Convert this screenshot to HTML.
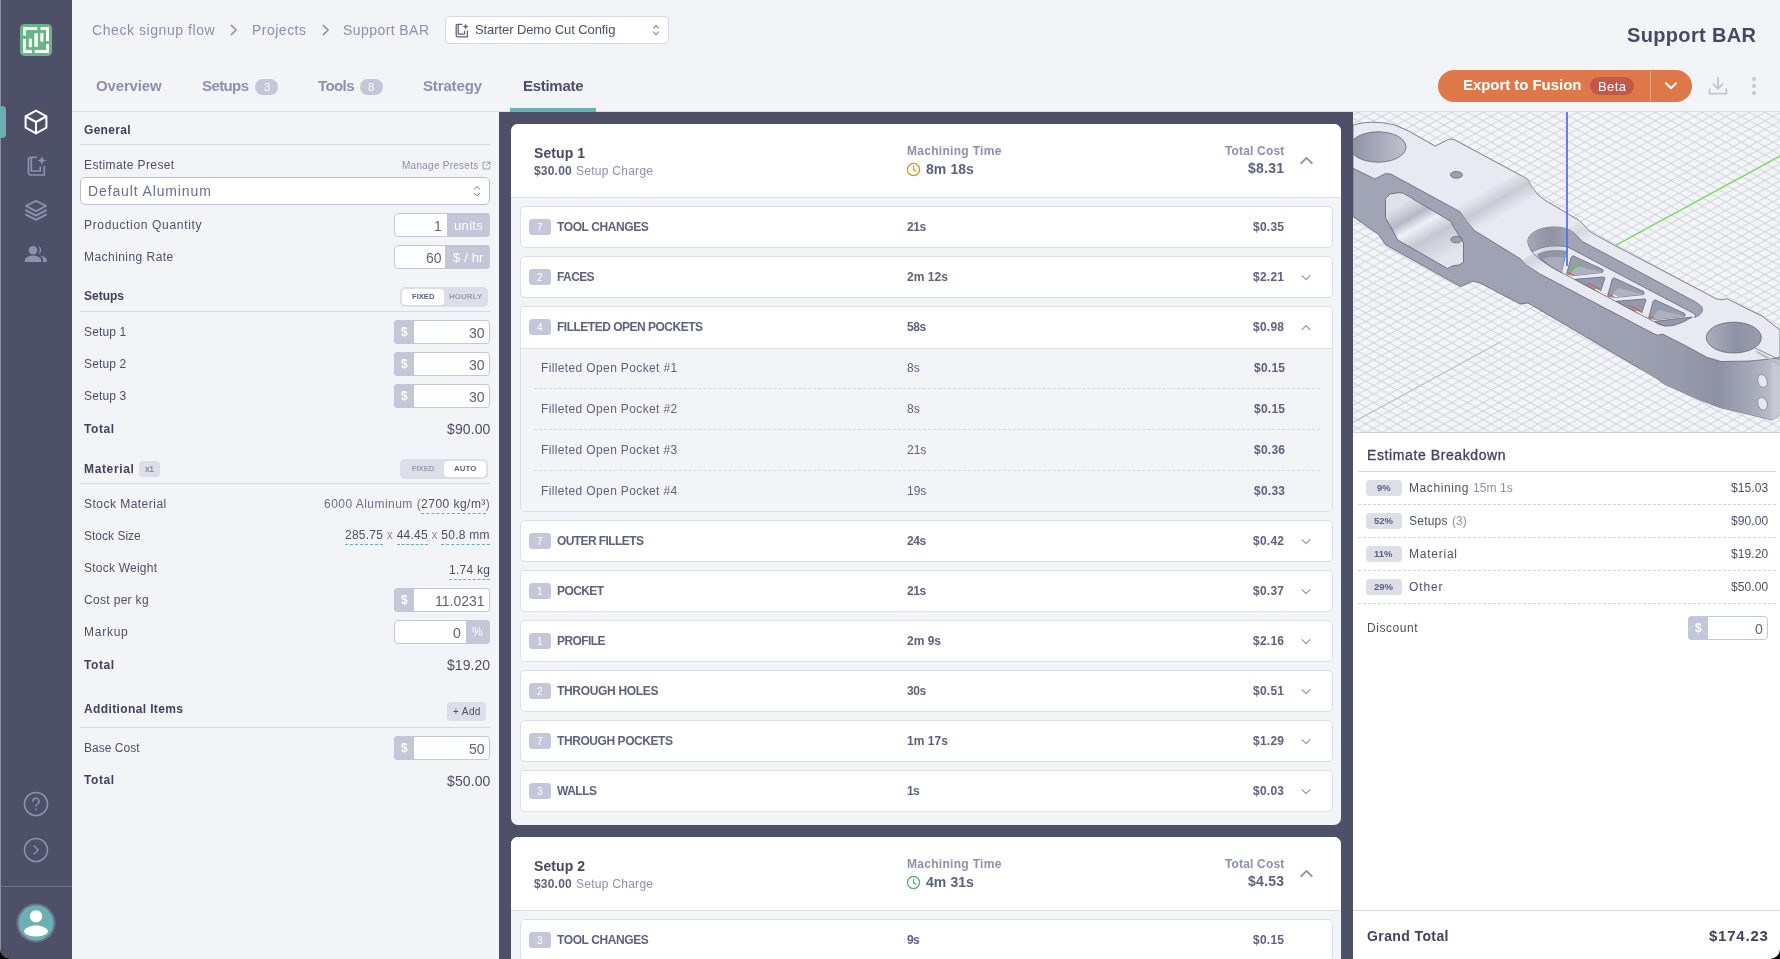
<!DOCTYPE html>
<html lang="en"><head><meta charset="utf-8"><title>Support BAR - Estimate</title>
<style>
html,body{margin:0;padding:0;}
body{width:1780px;height:959px;overflow:hidden;position:relative;background:#f3f4f8;font-family:"Liberation Sans",sans-serif;}
.t{position:absolute;white-space:nowrap;margin:0;padding:0;will-change:transform;}
.b{position:absolute;box-sizing:border-box;display:block;}
</style></head><body>
<div class="b" style="left:0px;top:0px;width:72px;height:959px;background:#4e5068;"></div>
<div class="b" style="left:0px;top:0px;width:1px;height:959px;background:#8b8d9e;"></div>
<div class="b" style="left:0px;top:106px;width:5.6px;height:32px;background:#6ab0b3;border-radius:0 4px 4px 0;"></div>
<svg class="b" style="left:20px;top:24px;" width="32" height="32" viewBox="0 0 32 32">
<rect x="0" y="0" width="32" height="32" rx="4.5" fill="#67b685"/>
<g fill="#fff">
<path d="M3 3 H17.2 V6 H6 V11.6 H3 Z"/>
<path d="M20.5 3 H29 V17.1 H26 V6 H20.5 Z"/>
<path d="M3 14.9 H6 V26 H11.8 V29 H3 Z"/>
<path d="M14.8 26 H26 V20.1 H29 V29 H14.8 Z"/>
<rect x="8.8" y="14.4" width="3.2" height="9" rx="1.4"/>
<rect x="14.4" y="9.1" width="3.5" height="14" rx="1.4"/>
<rect x="20.3" y="8.9" width="3.2" height="9" rx="1.4"/>
</g>
</svg>
<svg class="b" style="left:22px;top:108px;" width="28" height="28" viewBox="0 0 28 28">
<g fill="none" stroke="#fff" stroke-width="2" stroke-linejoin="round" stroke-linecap="round">
<path d="M14 2.6 L24.4 8.3 V19.7 L14 25.4 L3.6 19.7 V8.3 Z"/>
<path d="M3.9 8.5 L14 14 L24.1 8.5"/><path d="M14 14 V25.2"/>
</g></svg>
<svg class="b" style="left:24px;top:154px;" width="24" height="24" viewBox="0 0 24 24">
<g fill="none" stroke="#8d91ab" stroke-width="1.7" stroke-linejoin="round" stroke-linecap="butt">
<path d="M13 3.3 H6.4 a1.9 1.9 0 0 0 -1.9 1.9 V18.8 a2.2 2.2 0 0 0 2.2 2.2 H20.3 V11.8"/>
<path d="M7.3 3.3 V17 H16.3 V12.4"/>
</g>
<path d="M17.8 2 l1.2 3.3 l3.3 1.2 l-3.3 1.2 l-1.2 3.3 l-1.2 -3.3 l-3.3 -1.2 l3.3 -1.2 z" fill="#8d91ab"/>
</svg>
<svg class="b" style="left:24px;top:198px;" width="24" height="24" viewBox="0 0 24 24">
<g fill="none" stroke="#8d91ab" stroke-width="1.9" stroke-linejoin="round" stroke-linecap="round">
<path d="M12 2.8 L22 8 L12 13.2 L2 8 Z"/>
<path d="M2 12.4 L12 17.6 L22 12.4"/>
<path d="M2 16.6 L12 21.8 L22 16.6"/>
</g></svg>
<svg class="b" style="left:24px;top:243px;" width="24" height="22" viewBox="0 0 24 22">
<g fill="#8d91ab">
<circle cx="9" cy="7.2" r="4.3"/>
<path d="M0.8 19 v-1.6 c0 -3.2 5.2 -4.9 8.2 -4.9 s8.2 1.7 8.2 4.9 V19 Z"/>
<path d="M14.2 3.1 a4.3 4.3 0 0 1 0 8.2 a6 6 0 0 0 0 -8.2 Z"/>
<path d="M16.6 12.7 c2.8 0.5 6.2 1.9 6.2 4.7 V19 h-3.6 v-1.6 c0 -2 -1.1 -3.5 -2.6 -4.7 Z"/>
</g></svg>
<svg class="b" style="left:23px;top:791px;" width="26" height="26" viewBox="0 0 26 26">
<circle cx="13" cy="13" r="11.5" fill="none" stroke="#8d91ab" stroke-width="1.6"/>
<path d="M9.9 10.3 a3.1 3.1 0 1 1 4.6 2.7 c-1 .6 -1.5 1.1 -1.5 2.3" fill="none" stroke="#8d91ab" stroke-width="1.4" stroke-linecap="round"/>
<circle cx="13" cy="18.3" r="0.95" fill="#8d91ab"/></svg>
<svg class="b" style="left:23px;top:837px;" width="26" height="26" viewBox="0 0 26 26">
<circle cx="13" cy="13" r="11.5" fill="none" stroke="#8d91ab" stroke-width="1.6"/>
<path d="M11 8.8 L15.2 13 L11 17.2" fill="none" stroke="#8d91ab" stroke-width="1.4" stroke-linecap="round" stroke-linejoin="round"/></svg>
<div class="b" style="left:1px;top:886px;width:71px;height:1px;background:#6d708b;"></div>
<svg class="b" style="left:16px;top:903px;" width="40" height="40" viewBox="0 0 40 40">
<circle cx="20" cy="20" r="19.6" fill="#6d708b"/>
<circle cx="20" cy="20" r="17.5" fill="#6ab0b3"/>
<circle cx="20" cy="13.4" r="6.2" fill="#fff"/>
<path d="M8 29.2 c0 -4.2 6 -6.6 12 -6.6 s12 2.4 12 6.6 c-2.4 2.9 -7 4.4 -12 4.4 s-9.6 -1.5 -12 -4.4 Z" fill="#fff"/></svg>
<div class="t" style="top:21.15px;font-size:14px;line-height:18px;color:#8c90ad;letter-spacing:0.568px;left:92.30px;">Check signup flow</div>
<div class="t" style="top:21.15px;font-size:14px;line-height:18px;color:#8c90ad;letter-spacing:0.490px;left:252.00px;">Projects</div>
<div class="t" style="top:21.15px;font-size:14px;line-height:18px;color:#8c90ad;letter-spacing:0.429px;left:343.00px;">Support BAR</div>
<svg class="b" style="left:230px;top:24px;" width="8" height="12" viewBox="0 0 8 12"><path d="M1.3 1.4 L6.2 6 L1.3 10.6" fill="none" stroke="#8c90ad" stroke-width="1.5" stroke-linecap="round" stroke-linejoin="round"/></svg>
<svg class="b" style="left:321.5px;top:24px;" width="8" height="12" viewBox="0 0 8 12"><path d="M1.3 1.4 L6.2 6 L1.3 10.6" fill="none" stroke="#8c90ad" stroke-width="1.5" stroke-linecap="round" stroke-linejoin="round"/></svg>
<div class="b" style="left:445px;top:16px;width:224px;height:28px;background:#fff;border:1px solid #d3d6e3;border-radius:4px;"></div>
<svg class="b" style="left:452.6px;top:21.6px;" width="17" height="17" viewBox="0 0 24 24">
<g fill="none" stroke="#5d6180" stroke-width="1.75" stroke-linejoin="round">
<path d="M13 3.3 H6.4 a1.9 1.9 0 0 0 -1.9 1.9 V18.8 a2.2 2.2 0 0 0 2.2 2.2 H20.3 V11.8"/>
<path d="M7.3 3.3 V17 H16.3 V12.4"/></g>
<path d="M17.8 2 l1.2 3.3 l3.3 1.2 l-3.3 1.2 l-1.2 3.3 l-1.2 -3.3 l-3.3 -1.2 l3.3 -1.2 z" fill="#5d6180"/></svg>
<div class="t" style="top:21.40px;font-size:13px;line-height:17px;color:#4d4f69;letter-spacing:-0.088px;left:474.60px;">Starter Demo Cut Config</div>
<svg class="b" style="left:652px;top:23px;" width="8" height="14" viewBox="0 0 8 14"><g fill="none" stroke="#8c90ad" stroke-width="1.1" stroke-linecap="round" stroke-linejoin="round"><path d="M1.5 5 L4 2.4 L6.5 5"/><path d="M1.5 9 L4 11.6 L6.5 9"/></g></svg>
<div class="t" style="top:21.57px;font-size:20px;line-height:26px;color:#454866;font-weight:700;letter-spacing:0.346px;right:23.85px;text-align:right;">Support BAR</div>
<div class="t" style="top:75.80px;font-size:15px;line-height:20px;color:#8c90ad;font-weight:700;letter-spacing:-0.158px;left:96.40px;">Overview</div>
<div class="t" style="top:75.80px;font-size:15px;line-height:20px;color:#8c90ad;font-weight:700;letter-spacing:-0.600px;left:202.00px;">Setups</div>
<div class="t" style="top:75.80px;font-size:15px;line-height:20px;color:#8c90ad;font-weight:700;letter-spacing:-0.600px;left:318.00px;">Tools</div>
<div class="t" style="top:75.80px;font-size:15px;line-height:20px;color:#8c90ad;font-weight:700;letter-spacing:-0.146px;left:423.00px;">Strategy</div>
<div class="t" style="top:75.80px;font-size:15px;line-height:20px;color:#4d4f69;font-weight:700;letter-spacing:-0.290px;left:522.50px;">Estimate</div>
<div class="b" style="left:255.4px;top:78.5px;width:23px;height:16.5px;background:#c4c7d9;border-radius:8.5px;"></div>
<div class="t" style="top:79.52px;font-size:11.5px;line-height:15px;color:#fff;left:263.70px;">3</div>
<div class="b" style="left:360px;top:78.5px;width:23px;height:16.5px;background:#c4c7d9;border-radius:8.5px;"></div>
<div class="t" style="top:79.52px;font-size:11.5px;line-height:15px;color:#fff;left:368.30px;">8</div>
<div class="b" style="left:72px;top:111px;width:1708px;height:1px;background:#dcdee8;"></div>
<div class="b" style="left:510px;top:108px;width:86px;height:3.5px;background:#6ab0b3;"></div>
<div class="b" style="left:1438px;top:70px;width:254px;height:32px;background:#de7848;border-radius:16px;"></div>
<div class="b" style="left:1650px;top:71px;width:1px;height:30px;background:#eba27f;"></div>
<div class="t" style="top:75.30px;font-size:15px;line-height:20px;color:#fff;font-weight:700;letter-spacing:-0.050px;left:1463.00px;">Export to Fusion</div>
<div class="b" style="left:1590.3px;top:77px;width:44px;height:18px;background:#c1584a;border-radius:9px;"></div>
<div class="t" style="top:77.50px;font-size:13px;line-height:17px;color:#fff;letter-spacing:0.419px;left:1598.00px;">Beta</div>
<svg class="b" style="left:1664px;top:80px;" width="14" height="12" viewBox="0 0 14 12"><path d="M2 3.2 L7 8.2 L12 3.2" fill="none" stroke="#fff" stroke-width="2" stroke-linecap="round" stroke-linejoin="round"/></svg>
<svg class="b" style="left:1707px;top:76px;" width="22" height="20" viewBox="0 0 22 20"><g fill="none" stroke="#c3c6db" stroke-width="1.9" stroke-linecap="round" stroke-linejoin="round"><path d="M11 2 V12.4"/><path d="M6.4 8.2 L11 12.8 L15.6 8.2"/><path d="M2.6 13.2 V17.6 H19.4 V13.2"/></g></svg>
<svg class="b" style="left:1751px;top:76px;" width="6" height="20" viewBox="0 0 6 20"><g fill="#c3c6db"><circle cx="3" cy="3" r="2"/><circle cx="3" cy="10" r="2"/><circle cx="3" cy="17" r="2"/></g></svg>
<div class="t" style="top:121.84px;font-size:12px;line-height:16px;color:#3f4260;font-weight:700;letter-spacing:0.302px;left:84.30px;">General</div>
<div class="b" style="left:80px;top:144px;width:410px;height:1px;background:#d7d9e5;"></div>
<div class="t" style="top:156.64px;font-size:12px;line-height:16px;color:#4d4f69;letter-spacing:0.393px;left:84.30px;">Estimate Preset</div>
<div class="t" style="top:159.03px;font-size:10px;line-height:13px;color:#8c90ad;letter-spacing:0.261px;left:401.50px;">Manage Presets</div>
<svg class="b" style="left:481.5px;top:160.5px;" width="9" height="9" viewBox="0 0 9 9"><g fill="none" stroke="#8c90ad" stroke-width="0.9" stroke-linecap="round" stroke-linejoin="round"><path d="M3.8 1.2 H1.6 a.6 .6 0 0 0 -.6 .6 V7.4 a.6 .6 0 0 0 .6 .6 H7.2 a.6 .6 0 0 0 .6 -.6 V5.2"/><path d="M5.4 1 H8 V3.6"/><path d="M8 1 L4.2 4.8"/></g></svg>
<div class="b" style="left:80px;top:177px;width:410px;height:28px;background:#fff;border:1px solid #bcc0d4;border-radius:5px;"></div>
<div class="t" style="top:182.15px;font-size:14px;line-height:18px;color:#6b6f8d;letter-spacing:0.872px;left:87.50px;">Default Aluminum</div>
<svg class="b" style="left:473px;top:184px;" width="8" height="14" viewBox="0 0 8 14"><g fill="none" stroke="#7d819e" stroke-width="1" stroke-linecap="round" stroke-linejoin="round"><path d="M1.3 5 L4 2.5 L6.7 5"/><path d="M1.3 9.3 L4 11.8 L6.7 9.3"/></g></svg>
<div class="t" style="top:216.54px;font-size:12px;line-height:16px;color:#4d4f69;letter-spacing:0.673px;left:84.30px;">Production Quantity</div>
<div class="b" style="left:394px;top:213px;width:96px;height:24px;background:#fff;border:1px solid #c4c7d9;border-radius:4px;"></div>
<div class="b" style="left:447px;top:213px;width:43px;height:24px;background:#c4c7d9;border-radius:0 4px 4px 0;"></div>
<div class="t" style="top:216.60px;font-size:13px;line-height:17px;color:#fff;letter-spacing:0.335px;left:454.00px;">units</div>
<div class="t" style="top:216.75px;font-size:14px;line-height:18px;color:#5d6180;right:1338.30px;text-align:right;">1</div>
<div class="t" style="top:248.54px;font-size:12px;line-height:16px;color:#4d4f69;letter-spacing:0.448px;left:84.30px;">Machining Rate</div>
<div class="b" style="left:394px;top:245px;width:96px;height:24px;background:#fff;border:1px solid #c4c7d9;border-radius:4px;"></div>
<div class="b" style="left:445px;top:245px;width:45px;height:24px;background:#c4c7d9;border-radius:0 4px 4px 0;"></div>
<div class="t" style="top:248.60px;font-size:13px;line-height:17px;color:#fff;letter-spacing:0.155px;left:452.60px;">$ / hr</div>
<div class="t" style="top:248.75px;font-size:14px;line-height:18px;color:#5d6180;right:1338.50px;text-align:right;">60</div>
<div class="t" style="top:288.44px;font-size:12px;line-height:16px;color:#3f4260;font-weight:700;left:84.20px;">Setups</div>
<div class="b" style="left:400px;top:287px;width:88px;height:20px;background:#dcdee8;border-radius:5px;"></div>
<div class="b" style="left:402px;top:288.8px;width:42px;height:16.4px;background:#fff;border-radius:4px;"></div>
<div class="t" style="top:292.40px;font-size:7.8px;line-height:10px;color:#5d6180;font-weight:700;letter-spacing:-0.093px;left:411.60px;">FIXED</div>
<div class="t" style="top:292.40px;font-size:7.8px;line-height:10px;color:#9a9eb8;font-weight:700;letter-spacing:0.177px;left:448.60px;">HOURLY</div>
<div class="b" style="left:80px;top:311px;width:410px;height:1px;background:#d7d9e5;"></div>
<div class="t" style="top:323.84px;font-size:12px;line-height:16px;color:#4d4f69;letter-spacing:0.139px;left:84.20px;">Setup 1</div>
<div class="b" style="left:394px;top:320px;width:96px;height:24px;background:#fff;border:1px solid #c4c7d9;border-radius:4px;"></div>
<div class="b" style="left:394px;top:320px;width:20px;height:24px;background:#c4c7d9;border-radius:4px 0 0 4px;"></div>
<div class="t" style="top:324.04px;font-size:12px;line-height:16px;color:#fff;font-weight:700;left:400.60px;">$</div>
<div class="t" style="top:323.75px;font-size:14px;line-height:18px;color:#5d6180;right:1295.20px;text-align:right;">30</div>
<div class="t" style="top:355.84px;font-size:12px;line-height:16px;color:#4d4f69;letter-spacing:0.139px;left:84.20px;">Setup 2</div>
<div class="b" style="left:394px;top:352px;width:96px;height:24px;background:#fff;border:1px solid #c4c7d9;border-radius:4px;"></div>
<div class="b" style="left:394px;top:352px;width:20px;height:24px;background:#c4c7d9;border-radius:4px 0 0 4px;"></div>
<div class="t" style="top:356.04px;font-size:12px;line-height:16px;color:#fff;font-weight:700;left:400.60px;">$</div>
<div class="t" style="top:355.75px;font-size:14px;line-height:18px;color:#5d6180;right:1295.20px;text-align:right;">30</div>
<div class="t" style="top:387.84px;font-size:12px;line-height:16px;color:#4d4f69;letter-spacing:0.139px;left:84.20px;">Setup 3</div>
<div class="b" style="left:394px;top:384px;width:96px;height:24px;background:#fff;border:1px solid #c4c7d9;border-radius:4px;"></div>
<div class="b" style="left:394px;top:384px;width:20px;height:24px;background:#c4c7d9;border-radius:4px 0 0 4px;"></div>
<div class="t" style="top:388.04px;font-size:12px;line-height:16px;color:#fff;font-weight:700;left:400.60px;">$</div>
<div class="t" style="top:387.75px;font-size:14px;line-height:18px;color:#5d6180;right:1295.20px;text-align:right;">30</div>
<div class="t" style="top:420.84px;font-size:12px;line-height:16px;color:#3f4260;font-weight:700;letter-spacing:0.557px;left:84.20px;">Total</div>
<div class="t" style="top:420.15px;font-size:14px;line-height:18px;color:#4d4f69;letter-spacing:0.096px;right:1289.90px;text-align:right;">$90.00</div>
<div class="t" style="top:460.84px;font-size:12px;line-height:16px;color:#3f4260;font-weight:700;letter-spacing:0.650px;left:84.25px;">Material</div>
<div class="b" style="left:139px;top:461px;width:21px;height:16px;background:#dcdee8;border-radius:4px;"></div>
<div class="t" style="top:463.95px;font-size:8.5px;line-height:11px;color:#8c90ad;font-weight:700;letter-spacing:-0.453px;left:144.80px;">x1</div>
<div class="b" style="left:400px;top:459px;width:88px;height:20px;background:#dcdee8;border-radius:5px;"></div>
<div class="b" style="left:444px;top:460.8px;width:42px;height:16.4px;background:#fff;border-radius:4px;"></div>
<div class="t" style="top:464.40px;font-size:7.8px;line-height:10px;color:#9a9eb8;font-weight:700;letter-spacing:-0.168px;left:411.70px;">FIXED</div>
<div class="t" style="top:464.40px;font-size:7.8px;line-height:10px;color:#5d6180;font-weight:700;letter-spacing:0.115px;left:453.80px;">AUTO</div>
<div class="b" style="left:80px;top:483px;width:410px;height:1px;background:#d7d9e5;"></div>
<div class="t" style="top:495.84px;font-size:12px;line-height:16px;color:#4d4f69;letter-spacing:0.475px;left:84.25px;">Stock Material</div>
<div class="t" style="top:495.54px;font-size:12px;line-height:16px;color:#4d4f69;right:1290.00px;text-align:right;letter-spacing:0.47px;"><span style="color:#6b6f8d">6000 Aluminum (</span><span style="border-bottom:1px dashed #6ab0b3;padding-bottom:1.5px;">2700 kg/m&#179;</span><span style="color:#6b6f8d">)</span></div>
<div class="t" style="top:527.59px;font-size:12px;line-height:16px;color:#4d4f69;letter-spacing:0.012px;left:84.25px;">Stock Size</div>
<div class="t" style="top:527.14px;font-size:12px;line-height:16px;color:#4d4f69;right:1290.00px;text-align:right;letter-spacing:0.25px;"><span style="border-bottom:1px dashed #6ab0b3;padding-bottom:1.5px;">285.75</span><span style="color:#8c90ad"> x </span><span style="border-bottom:1px dashed #6ab0b3;padding-bottom:1.5px;">44.45</span><span style="color:#8c90ad"> x </span><span style="border-bottom:1px dashed #6ab0b3;padding-bottom:1.5px;">50.8 mm</span></div>
<div class="t" style="top:559.59px;font-size:12px;line-height:16px;color:#4d4f69;letter-spacing:0.229px;left:84.25px;">Stock Weight</div>
<div class="t" style="top:561.64px;font-size:12px;line-height:16px;color:#4d4f69;right:1290.00px;text-align:right;letter-spacing:0.25px;"><span style="border-bottom:1px dashed #6ab0b3;padding-bottom:1.5px;">1.74 kg</span></div>
<div class="t" style="top:591.84px;font-size:12px;line-height:16px;color:#4d4f69;letter-spacing:0.324px;left:84.25px;">Cost per kg</div>
<div class="b" style="left:394px;top:588px;width:96px;height:24px;background:#fff;border:1px solid #c4c7d9;border-radius:4px;"></div>
<div class="b" style="left:394px;top:588px;width:20px;height:24px;background:#c4c7d9;border-radius:4px 0 0 4px;"></div>
<div class="t" style="top:592.04px;font-size:12px;line-height:16px;color:#fff;font-weight:700;left:400.60px;">$</div>
<div class="t" style="top:591.75px;font-size:14px;line-height:18px;color:#5d6180;right:1295.70px;text-align:right;">11.0231</div>
<div class="t" style="top:624.04px;font-size:12px;line-height:16px;color:#4d4f69;letter-spacing:0.757px;left:84.25px;">Markup</div>
<div class="b" style="left:394px;top:620px;width:96px;height:24px;background:#fff;border:1px solid #c4c7d9;border-radius:4px;"></div>
<div class="b" style="left:466px;top:620px;width:24px;height:24px;background:#c4c7d9;border-radius:0 4px 4px 0;"></div>
<div class="t" style="top:624.44px;font-size:12px;line-height:16px;color:#fff;left:472.30px;">%</div>
<div class="t" style="top:623.75px;font-size:14px;line-height:18px;color:#5d6180;right:1319.00px;text-align:right;">0</div>
<div class="t" style="top:656.84px;font-size:12px;line-height:16px;color:#3f4260;font-weight:700;letter-spacing:0.557px;left:84.25px;">Total</div>
<div class="t" style="top:656.15px;font-size:14px;line-height:18px;color:#4d4f69;letter-spacing:0.036px;right:1289.96px;text-align:right;">$19.20</div>
<div class="t" style="top:700.84px;font-size:12px;line-height:16px;color:#3f4260;font-weight:700;letter-spacing:0.377px;left:84.25px;">Additional Items</div>
<div class="b" style="left:447px;top:702px;width:39px;height:19px;background:#dcdee8;border-radius:3.5px;"></div>
<div class="t" style="top:704.93px;font-size:10px;line-height:13px;color:#4d4f69;letter-spacing:0.385px;left:452.80px;">+ Add</div>
<div class="b" style="left:80px;top:727px;width:410px;height:1px;background:#d7d9e5;"></div>
<div class="t" style="top:739.84px;font-size:12px;line-height:16px;color:#4d4f69;letter-spacing:0.030px;left:84.25px;">Base Cost</div>
<div class="b" style="left:394px;top:736px;width:96px;height:24px;background:#fff;border:1px solid #c4c7d9;border-radius:4px;"></div>
<div class="b" style="left:394px;top:736px;width:20px;height:24px;background:#c4c7d9;border-radius:4px 0 0 4px;"></div>
<div class="t" style="top:740.04px;font-size:12px;line-height:16px;color:#fff;font-weight:700;left:400.60px;">$</div>
<div class="t" style="top:739.75px;font-size:14px;line-height:18px;color:#5d6180;right:1295.50px;text-align:right;">50</div>
<div class="t" style="top:772.44px;font-size:12px;line-height:16px;color:#3f4260;font-weight:700;letter-spacing:0.557px;left:84.25px;">Total</div>
<div class="t" style="top:771.85px;font-size:14px;line-height:18px;color:#4d4f69;letter-spacing:0.096px;right:1289.90px;text-align:right;">$50.00</div>
<div class="b" style="left:499px;top:112px;width:854px;height:847px;background:#4e5068;"></div>
<div class="b" style="left:511px;top:124px;width:830px;height:701px;background:#f3f4f8;border-radius:7px;overflow:hidden;"><div style="position:absolute;left:0;top:0;width:830px;height:73px;background:#fff;border-bottom:1px solid #dcdee8;box-sizing:content-box;"></div></div>
<div class="t" style="top:143.85px;font-size:14px;line-height:18px;color:#454866;font-weight:700;letter-spacing:0.089px;left:534.10px;">Setup 1</div>
<div class="t" style="top:162.94px;font-size:12px;line-height:16px;color:#5d6180;font-weight:700;letter-spacing:0.200px;left:534.00px;">$30.00</div>
<div class="t" style="top:162.94px;font-size:12px;line-height:16px;color:#8c90ad;letter-spacing:0.268px;left:575.90px;">Setup Charge</div>
<div class="t" style="top:142.74px;font-size:12px;line-height:16px;color:#8c90ad;font-weight:700;letter-spacing:0.296px;left:906.50px;">Machining Time</div>
<svg class="b" style="left:906.2px;top:161.6px;" width="15" height="15" viewBox="0 0 15 15"><circle cx="7.5" cy="7.5" r="6.1" fill="none" stroke="#d9951c" stroke-width="1.3"/><path d="M7.5 4 V7.7 L9.8 9.2" fill="none" stroke="#d9951c" stroke-width="1.2" stroke-linecap="round" stroke-linejoin="round"/></svg>
<div class="t" style="top:159.85px;font-size:14px;line-height:18px;color:#5d6180;font-weight:700;letter-spacing:0.084px;left:926.00px;">8m 18s</div>
<div class="t" style="top:143.34px;font-size:12px;line-height:16px;color:#8c90ad;font-weight:700;letter-spacing:0.159px;right:495.94px;text-align:right;">Total Cost</div>
<div class="t" style="top:159.35px;font-size:14px;line-height:18px;color:#5d6180;font-weight:700;letter-spacing:0.242px;right:495.76px;text-align:right;">$8.31</div>
<svg class="b" style="left:1299.8px;top:156.3px;" width="13" height="9" viewBox="0 0 13 9"><path d="M1.2 7.2 L6.5 1.9 L11.8 7.2" fill="none" stroke="#8c90ad" stroke-width="1.9" stroke-linecap="round" stroke-linejoin="round"/></svg>
<div class="b" style="left:520px;top:206px;width:813px;height:42px;background:#fff;border:1px solid #dcdee8;border-radius:5px;overflow:hidden;"></div>
<div class="b" style="left:529px;top:219px;width:22px;height:16px;background:#c4c7d9;border-radius:3.5px;"></div>
<div class="t" style="top:220.73px;font-size:10px;line-height:13px;color:#fff;left:537.30px;">7</div>
<div class="t" style="top:218.84px;font-size:12px;line-height:16px;color:#5d6180;font-weight:700;letter-spacing:-0.403px;left:557.40px;">TOOL CHANGES</div>
<div class="t" style="top:218.84px;font-size:12px;line-height:16px;color:#5d6180;font-weight:700;letter-spacing:-0.410px;left:906.60px;">21s</div>
<div class="t" style="top:218.84px;font-size:12px;line-height:16px;color:#5d6180;font-weight:700;letter-spacing:0.243px;right:495.76px;text-align:right;">$0.35</div>
<div class="b" style="left:520px;top:256px;width:813px;height:42px;background:#fff;border:1px solid #dcdee8;border-radius:5px;overflow:hidden;"></div>
<div class="b" style="left:529px;top:269px;width:22px;height:16px;background:#c4c7d9;border-radius:3.5px;"></div>
<div class="t" style="top:270.74px;font-size:10px;line-height:13px;color:#fff;left:537.30px;">2</div>
<div class="t" style="top:268.84px;font-size:12px;line-height:16px;color:#5d6180;font-weight:700;letter-spacing:-0.600px;left:557.40px;">FACES</div>
<div class="t" style="top:268.84px;font-size:12px;line-height:16px;color:#5d6180;font-weight:700;letter-spacing:0.060px;left:906.60px;">2m 12s</div>
<div class="t" style="top:268.84px;font-size:12px;line-height:16px;color:#5d6180;font-weight:700;letter-spacing:0.243px;right:495.76px;text-align:right;">$2.21</div>
<svg class="b" style="left:1301.3px;top:273.5px;" width="10" height="7" viewBox="0 0 10 7"><path d="M1 1.6 L5 5.6 L9 1.6" fill="none" stroke="#8c90ad" stroke-width="1.1" stroke-linecap="round" stroke-linejoin="round"/></svg>
<div class="b" style="left:520px;top:306px;width:813px;height:206px;background:#fff;border:1px solid #dcdee8;border-radius:5px;overflow:hidden;"><div style="position:absolute;left:0;top:41px;width:811px;height:163px;background:#f3f4f8;border-top:1px solid #dcdee8;"></div></div>
<div class="b" style="left:529px;top:319px;width:22px;height:16px;background:#c4c7d9;border-radius:3.5px;"></div>
<div class="t" style="top:320.74px;font-size:10px;line-height:13px;color:#fff;left:537.30px;">4</div>
<div class="t" style="top:318.84px;font-size:12px;line-height:16px;color:#5d6180;font-weight:700;letter-spacing:-0.501px;left:557.40px;">FILLETED OPEN POCKETS</div>
<div class="t" style="top:318.84px;font-size:12px;line-height:16px;color:#5d6180;font-weight:700;letter-spacing:-0.410px;left:906.60px;">58s</div>
<div class="t" style="top:318.84px;font-size:12px;line-height:16px;color:#5d6180;font-weight:700;letter-spacing:0.243px;right:495.76px;text-align:right;">$0.98</div>
<svg class="b" style="left:1301.3px;top:323.5px;" width="10" height="7" viewBox="0 0 10 7"><path d="M1 5.6 L5 1.6 L9 5.6" fill="none" stroke="#8c90ad" stroke-width="1.1" stroke-linecap="round" stroke-linejoin="round"/></svg>
<div class="t" style="top:359.74px;font-size:12px;line-height:16px;color:#5d6180;letter-spacing:0.369px;left:541.00px;">Filleted Open Pocket #1</div>
<div class="t" style="top:359.74px;font-size:12px;line-height:16px;color:#5d6180;left:907.30px;">8s</div>
<div class="t" style="top:359.74px;font-size:12px;line-height:16px;color:#5d6180;font-weight:700;letter-spacing:0.243px;right:494.76px;text-align:right;">$0.15</div>
<div class="b" style="left:534px;top:388px;width:786px;height:1px;border-top:1px dashed #d6d8e4;"></div>
<div class="t" style="top:400.74px;font-size:12px;line-height:16px;color:#5d6180;letter-spacing:0.369px;left:541.00px;">Filleted Open Pocket #2</div>
<div class="t" style="top:400.74px;font-size:12px;line-height:16px;color:#5d6180;left:907.30px;">8s</div>
<div class="t" style="top:400.74px;font-size:12px;line-height:16px;color:#5d6180;font-weight:700;letter-spacing:0.243px;right:494.76px;text-align:right;">$0.15</div>
<div class="b" style="left:534px;top:429px;width:786px;height:1px;border-top:1px dashed #d6d8e4;"></div>
<div class="t" style="top:441.74px;font-size:12px;line-height:16px;color:#5d6180;letter-spacing:0.369px;left:541.00px;">Filleted Open Pocket #3</div>
<div class="t" style="top:441.74px;font-size:12px;line-height:16px;color:#5d6180;left:907.30px;">21s</div>
<div class="t" style="top:441.74px;font-size:12px;line-height:16px;color:#5d6180;font-weight:700;letter-spacing:0.243px;right:494.76px;text-align:right;">$0.36</div>
<div class="b" style="left:534px;top:470px;width:786px;height:1px;border-top:1px dashed #d6d8e4;"></div>
<div class="t" style="top:482.74px;font-size:12px;line-height:16px;color:#5d6180;letter-spacing:0.369px;left:541.00px;">Filleted Open Pocket #4</div>
<div class="t" style="top:482.74px;font-size:12px;line-height:16px;color:#5d6180;left:907.30px;">19s</div>
<div class="t" style="top:482.74px;font-size:12px;line-height:16px;color:#5d6180;font-weight:700;letter-spacing:0.243px;right:494.76px;text-align:right;">$0.33</div>
<div class="b" style="left:520px;top:520px;width:813px;height:42px;background:#fff;border:1px solid #dcdee8;border-radius:5px;overflow:hidden;"></div>
<div class="b" style="left:529px;top:533px;width:22px;height:16px;background:#c4c7d9;border-radius:3.5px;"></div>
<div class="t" style="top:534.74px;font-size:10px;line-height:13px;color:#fff;left:537.30px;">7</div>
<div class="t" style="top:532.84px;font-size:12px;line-height:16px;color:#5d6180;font-weight:700;letter-spacing:-0.583px;left:557.40px;">OUTER FILLETS</div>
<div class="t" style="top:532.84px;font-size:12px;line-height:16px;color:#5d6180;font-weight:700;letter-spacing:-0.410px;left:906.60px;">24s</div>
<div class="t" style="top:532.84px;font-size:12px;line-height:16px;color:#5d6180;font-weight:700;letter-spacing:0.243px;right:495.76px;text-align:right;">$0.42</div>
<svg class="b" style="left:1301.3px;top:537.5px;" width="10" height="7" viewBox="0 0 10 7"><path d="M1 1.6 L5 5.6 L9 1.6" fill="none" stroke="#8c90ad" stroke-width="1.1" stroke-linecap="round" stroke-linejoin="round"/></svg>
<div class="b" style="left:520px;top:570px;width:813px;height:42px;background:#fff;border:1px solid #dcdee8;border-radius:5px;overflow:hidden;"></div>
<div class="b" style="left:529px;top:583px;width:22px;height:16px;background:#c4c7d9;border-radius:3.5px;"></div>
<div class="t" style="top:584.74px;font-size:10px;line-height:13px;color:#fff;left:537.30px;">1</div>
<div class="t" style="top:582.84px;font-size:12px;line-height:16px;color:#5d6180;font-weight:700;letter-spacing:-0.600px;left:557.40px;">POCKET</div>
<div class="t" style="top:582.84px;font-size:12px;line-height:16px;color:#5d6180;font-weight:700;letter-spacing:-0.410px;left:906.60px;">21s</div>
<div class="t" style="top:582.84px;font-size:12px;line-height:16px;color:#5d6180;font-weight:700;letter-spacing:0.243px;right:495.76px;text-align:right;">$0.37</div>
<svg class="b" style="left:1301.3px;top:587.5px;" width="10" height="7" viewBox="0 0 10 7"><path d="M1 1.6 L5 5.6 L9 1.6" fill="none" stroke="#8c90ad" stroke-width="1.1" stroke-linecap="round" stroke-linejoin="round"/></svg>
<div class="b" style="left:520px;top:620px;width:813px;height:42px;background:#fff;border:1px solid #dcdee8;border-radius:5px;overflow:hidden;"></div>
<div class="b" style="left:529px;top:633px;width:22px;height:16px;background:#c4c7d9;border-radius:3.5px;"></div>
<div class="t" style="top:634.74px;font-size:10px;line-height:13px;color:#fff;left:537.30px;">1</div>
<div class="t" style="top:632.84px;font-size:12px;line-height:16px;color:#5d6180;font-weight:700;letter-spacing:-0.600px;left:557.40px;">PROFILE</div>
<div class="t" style="top:632.84px;font-size:12px;line-height:16px;color:#5d6180;font-weight:700;letter-spacing:-0.006px;left:906.60px;">2m 9s</div>
<div class="t" style="top:632.84px;font-size:12px;line-height:16px;color:#5d6180;font-weight:700;letter-spacing:0.243px;right:495.76px;text-align:right;">$2.16</div>
<svg class="b" style="left:1301.3px;top:637.5px;" width="10" height="7" viewBox="0 0 10 7"><path d="M1 1.6 L5 5.6 L9 1.6" fill="none" stroke="#8c90ad" stroke-width="1.1" stroke-linecap="round" stroke-linejoin="round"/></svg>
<div class="b" style="left:520px;top:670px;width:813px;height:42px;background:#fff;border:1px solid #dcdee8;border-radius:5px;overflow:hidden;"></div>
<div class="b" style="left:529px;top:683px;width:22px;height:16px;background:#c4c7d9;border-radius:3.5px;"></div>
<div class="t" style="top:684.74px;font-size:10px;line-height:13px;color:#fff;left:537.30px;">2</div>
<div class="t" style="top:682.84px;font-size:12px;line-height:16px;color:#5d6180;font-weight:700;letter-spacing:-0.320px;left:557.40px;">THROUGH HOLES</div>
<div class="t" style="top:682.84px;font-size:12px;line-height:16px;color:#5d6180;font-weight:700;letter-spacing:-0.410px;left:906.60px;">30s</div>
<div class="t" style="top:682.84px;font-size:12px;line-height:16px;color:#5d6180;font-weight:700;letter-spacing:0.243px;right:495.76px;text-align:right;">$0.51</div>
<svg class="b" style="left:1301.3px;top:687.5px;" width="10" height="7" viewBox="0 0 10 7"><path d="M1 1.6 L5 5.6 L9 1.6" fill="none" stroke="#8c90ad" stroke-width="1.1" stroke-linecap="round" stroke-linejoin="round"/></svg>
<div class="b" style="left:520px;top:720px;width:813px;height:42px;background:#fff;border:1px solid #dcdee8;border-radius:5px;overflow:hidden;"></div>
<div class="b" style="left:529px;top:733px;width:22px;height:16px;background:#c4c7d9;border-radius:3.5px;"></div>
<div class="t" style="top:734.74px;font-size:10px;line-height:13px;color:#fff;left:537.30px;">7</div>
<div class="t" style="top:732.84px;font-size:12px;line-height:16px;color:#5d6180;font-weight:700;letter-spacing:-0.429px;left:557.40px;">THROUGH POCKETS</div>
<div class="t" style="top:732.84px;font-size:12px;line-height:16px;color:#5d6180;font-weight:700;letter-spacing:0.060px;left:906.60px;">1m 17s</div>
<div class="t" style="top:732.84px;font-size:12px;line-height:16px;color:#5d6180;font-weight:700;letter-spacing:0.243px;right:495.76px;text-align:right;">$1.29</div>
<svg class="b" style="left:1301.3px;top:737.5px;" width="10" height="7" viewBox="0 0 10 7"><path d="M1 1.6 L5 5.6 L9 1.6" fill="none" stroke="#8c90ad" stroke-width="1.1" stroke-linecap="round" stroke-linejoin="round"/></svg>
<div class="b" style="left:520px;top:770px;width:813px;height:42px;background:#fff;border:1px solid #dcdee8;border-radius:5px;overflow:hidden;"></div>
<div class="b" style="left:529px;top:783px;width:22px;height:16px;background:#c4c7d9;border-radius:3.5px;"></div>
<div class="t" style="top:784.74px;font-size:10px;line-height:13px;color:#fff;left:537.30px;">3</div>
<div class="t" style="top:782.84px;font-size:12px;line-height:16px;color:#5d6180;font-weight:700;letter-spacing:-0.498px;left:557.40px;">WALLS</div>
<div class="t" style="top:782.84px;font-size:12px;line-height:16px;color:#5d6180;font-weight:700;letter-spacing:-0.600px;left:906.60px;">1s</div>
<div class="t" style="top:782.84px;font-size:12px;line-height:16px;color:#5d6180;font-weight:700;letter-spacing:0.243px;right:495.76px;text-align:right;">$0.03</div>
<svg class="b" style="left:1301.3px;top:787.5px;" width="10" height="7" viewBox="0 0 10 7"><path d="M1 1.6 L5 5.6 L9 1.6" fill="none" stroke="#8c90ad" stroke-width="1.1" stroke-linecap="round" stroke-linejoin="round"/></svg>
<div class="b" style="left:511px;top:837px;width:830px;height:140px;background:#f3f4f8;border-radius:7px;overflow:hidden;"><div style="position:absolute;left:0;top:0;width:830px;height:73px;background:#fff;border-bottom:1px solid #dcdee8;box-sizing:content-box;"></div></div>
<div class="t" style="top:856.85px;font-size:14px;line-height:18px;color:#454866;font-weight:700;letter-spacing:0.089px;left:534.10px;">Setup 2</div>
<div class="t" style="top:875.94px;font-size:12px;line-height:16px;color:#5d6180;font-weight:700;letter-spacing:0.200px;left:534.00px;">$30.00</div>
<div class="t" style="top:875.94px;font-size:12px;line-height:16px;color:#8c90ad;letter-spacing:0.268px;left:575.90px;">Setup Charge</div>
<div class="t" style="top:855.74px;font-size:12px;line-height:16px;color:#8c90ad;font-weight:700;letter-spacing:0.296px;left:906.50px;">Machining Time</div>
<svg class="b" style="left:906.2px;top:874.6px;" width="15" height="15" viewBox="0 0 15 15"><circle cx="7.5" cy="7.5" r="6.1" fill="none" stroke="#4fb36b" stroke-width="1.3"/><path d="M7.5 4 V7.7 L9.8 9.2" fill="none" stroke="#4fb36b" stroke-width="1.2" stroke-linecap="round" stroke-linejoin="round"/></svg>
<div class="t" style="top:872.85px;font-size:14px;line-height:18px;color:#5d6180;font-weight:700;letter-spacing:0.084px;left:926.00px;">4m 31s</div>
<div class="t" style="top:856.34px;font-size:12px;line-height:16px;color:#8c90ad;font-weight:700;letter-spacing:0.159px;right:495.94px;text-align:right;">Total Cost</div>
<div class="t" style="top:872.35px;font-size:14px;line-height:18px;color:#5d6180;font-weight:700;letter-spacing:0.242px;right:495.76px;text-align:right;">$4.53</div>
<svg class="b" style="left:1299.8px;top:869.3px;" width="13" height="9" viewBox="0 0 13 9"><path d="M1.2 7.2 L6.5 1.9 L11.8 7.2" fill="none" stroke="#8c90ad" stroke-width="1.9" stroke-linecap="round" stroke-linejoin="round"/></svg>
<div class="b" style="left:520px;top:919px;width:813px;height:42px;background:#fff;border:1px solid #dcdee8;border-radius:5px;overflow:hidden;"></div>
<div class="b" style="left:529px;top:932px;width:22px;height:16px;background:#c4c7d9;border-radius:3.5px;"></div>
<div class="t" style="top:933.74px;font-size:10px;line-height:13px;color:#fff;left:537.30px;">3</div>
<div class="t" style="top:931.84px;font-size:12px;line-height:16px;color:#5d6180;font-weight:700;letter-spacing:-0.403px;left:557.40px;">TOOL CHANGES</div>
<div class="t" style="top:931.84px;font-size:12px;line-height:16px;color:#5d6180;font-weight:700;letter-spacing:-0.600px;left:906.60px;">9s</div>
<div class="t" style="top:931.84px;font-size:12px;line-height:16px;color:#5d6180;font-weight:700;letter-spacing:0.243px;right:495.76px;text-align:right;">$0.15</div>
<div class="b" style="left:1353px;top:112px;width:427px;height:847px;background:#fff;"></div>
<svg class="b" style="left:1353px;top:112px;" width="427" height="320" viewBox="1353 112 427 320">
<defs>
<pattern id="gA" x="1365.8" y="381.25" width="15.65" height="8.54" patternUnits="userSpaceOnUse">
<path d="M-1.565 9.394 L17.215 -0.854 M-1.565 -0.854 L17.215 9.394" stroke="#b9bbc4" stroke-width="0.65" fill="none"/>
</pattern>
<linearGradient id="hole" x1="0" y1="0" x2="1" y2="0"><stop offset="0" stop-color="#8e91a3"/><stop offset="1" stop-color="#bfc1ce"/></linearGradient>
<linearGradient id="hole3" x1="0" y1="0" x2="1" y2="0"><stop offset="0" stop-color="#abaebc"/><stop offset=".55" stop-color="#8f92a4"/><stop offset="1" stop-color="#9a9daf"/></linearGradient>
<linearGradient id="hole2" x1="0" y1="0" x2="1" y2="0"><stop offset="0" stop-color="#a4a7b7"/><stop offset=".5" stop-color="#8f92a4"/><stop offset="1" stop-color="#a4a7b7"/></linearGradient>
<linearGradient id="side" x1="0" y1="0" x2="1" y2="0"><stop offset="0" stop-color="#a1a4b4"/><stop offset="1" stop-color="#9c9fb0"/></linearGradient>
<linearGradient id="cyl" gradientUnits="userSpaceOnUse" x1="1640" y1="0" x2="1780" y2="0"><stop offset="0" stop-color="#9c9fb0"/><stop offset=".25" stop-color="#999cad"/><stop offset=".55" stop-color="#8e91a3"/><stop offset=".8" stop-color="#a6a9b8"/><stop offset=".93" stop-color="#b9bbc8"/><stop offset=".95" stop-color="#c8cad5"/><stop offset="1" stop-color="#c4c6d2"/></linearGradient>
<linearGradient id="pock" gradientUnits="userSpaceOnUse" x1="1407" y1="201" x2="1441" y2="261"><stop offset="0" stop-color="#e0e1e9"/><stop offset=".24" stop-color="#b7b9c7"/><stop offset=".4" stop-color="#f0f1f5"/><stop offset=".62" stop-color="#c5c7d3"/><stop offset="1" stop-color="#e4e5ec"/></linearGradient>
<linearGradient id="band" gradientUnits="userSpaceOnUse" x1="1489" y1="187" x2="1505" y2="215"><stop offset="0" stop-color="#c0c2cf" stop-opacity="0"/><stop offset=".5" stop-color="#bdbfcc" stop-opacity="1"/><stop offset="1" stop-color="#c0c2cf" stop-opacity="0"/></linearGradient>
<linearGradient id="band2" gradientUnits="userSpaceOnUse" x1="1516" y1="252" x2="1530" y2="277"><stop offset="0" stop-color="#c0c2cf" stop-opacity="0"/><stop offset=".5" stop-color="#c6c8d4" stop-opacity="1"/><stop offset="1" stop-color="#c0c2cf" stop-opacity="0"/></linearGradient>
<linearGradient id="band3" gradientUnits="userSpaceOnUse" x1="1578" y1="218" x2="1590" y2="240"><stop offset="0" stop-color="#c0c2cf" stop-opacity="0"/><stop offset=".5" stop-color="#c6c8d4" stop-opacity="1"/><stop offset="1" stop-color="#c0c2cf" stop-opacity="0"/></linearGradient>
<clipPath id="topclip"><path d="M1353 125 L1362 123 L1371.3 122.2 L1383 122.8 L1394.3 124.8 L1408.5 131 L1435.1 146.1 L1449.3 139 L1454.6 139.9 L1527.3 178.9 L1532.6 187.8 L1538 195 L1545 200.2 L1560 209.1 L1579.2 220.6 L1584 225 L1588.8 230.7 L1596.5 235.5 L1615.2 245.6 L1716.3 298.8 L1722 299.9 L1727 298.6 L1750 310.3 L1762 316 L1780 330 L1780 357 L1775 358.5 L1750 361 L1721 361.5 L1706.7 357.3 L1687.6 346.7 L1662.6 334.1 L1657.8 335.2 L1654 333.8 L1540 274 L1527.3 265.8 L1520.2 258.7 L1474.1 230.3 L1467 221.5 L1460 211.7 L1390.8 174 L1385.5 173.6 L1374.8 178.9 L1353 168.3 Z"/></clipPath>
<clipPath id="slotclip"><path d="M1527.8 241.4 C1528 232 1542 226.5 1556 227 C1564 227.5 1571 230 1575.2 234.2 L1577.6 237.8 L1695.1 303.7 C1700 306 1703 308 1702.3 310.5 C1701 316 1696 319 1692.7 320.5 C1687 323.5 1681 325.5 1675.9 325.3 C1669 325.5 1665 325 1661.5 323.5 L1572.8 276.2 L1559.6 270.2 C1552 266.5 1545 262.5 1540.4 259.4 C1535 255.5 1532 252.5 1530.8 249.8 C1529 246.5 1527.8 244 1527.8 241.4 Z"/></clipPath>
</defs>
<rect x="1353" y="112" width="427" height="320" fill="#f3f4f8"/>
<rect x="1353" y="112" width="427" height="320" fill="url(#gA)"/>
<path d="M1353 422.4 L1500 342.2" stroke="#a9abb4" stroke-width="0.7"/>
<!-- side (dark) silhouette -->
<path d="M1353 160 L1353 216.7 L1378.4 234.2 L1385.4 244.7 L1460.5 286.6 L1472.7 281.3 L1480 283 L1520 304 L1528 303 L1656 378 L1664 384 L1700 400 L1720 407.5 L1772.5 420 L1780 415 L1780 340 L1700 340 L1560 270 L1400 170 Z" fill="url(#side)" stroke="#5b5e70" stroke-width="0.75"/>
<!-- cylinder side under right ring -->
<path d="M1640 326 L1654 333.8 L1657.8 335.2 L1662.6 334.1 L1687.6 346.7 L1706.7 357.3 L1721 361.5 L1750 361 L1775 358.5 L1780 357 L1780 415 L1772.5 420 L1720 407.5 L1700 400 L1664 384 L1656 378 L1640 368.6 Z" fill="url(#cyl)"/>
<!-- top face (light) -->
<path d="M1353 125 L1362 123 L1371.3 122.2 L1383 122.8 L1394.3 124.8 L1408.5 131 L1435.1 146.1 L1449.3 139 L1454.6 139.9 L1527.3 178.9 L1532.6 187.8 L1538 195 L1545 200.2 L1560 209.1 L1579.2 220.6 L1584 225 L1588.8 230.7 L1596.5 235.5 L1615.2 245.6 L1716.3 298.8 L1722 299.9 L1727 298.6 L1750 310.3 L1762 316 L1780 330 L1780 357 L1775 358.5 L1750 361 L1721 361.5 L1706.7 357.3 L1687.6 346.7 L1662.6 334.1 L1657.8 335.2 L1654 333.8 L1540 274 L1527.3 265.8 L1520.2 258.7 L1474.1 230.3 L1467 221.5 L1460 211.7 L1390.8 174 L1385.5 173.6 L1374.8 178.9 L1353 168.3 Z" fill="#e9eaf1" stroke="#5b5e70" stroke-width="0.75"/>
<!-- soft shading bands on top face -->
<g clip-path="url(#topclip)">
<path d="M1440 215 L1545 158 L1560 186 L1455 243 Z" fill="url(#band)" opacity="0.75"/>
<path d="M1500 272 L1560 239 L1572 262 L1512 295 Z" fill="url(#band2)" opacity="0.6"/>
<path d="M1560 232 L1600 210 L1610 230 L1570 252 Z" fill="url(#band3)" opacity="0.55"/>
</g>
<!-- left ring hole -->
<ellipse cx="1378" cy="147" rx="28" ry="15.2" fill="url(#hole)" stroke="#5b5e70" stroke-width="0.75"/>
<!-- small holes -->
<ellipse cx="1456.4" cy="174.8" rx="6" ry="3.4" fill="#9c9fb0" stroke="#5b5e70" stroke-width="0.75"/>
<!-- pocket in side face -->
<path d="M1385.5 198.4 L1390 194 L1397.9 192.8 L1403.2 193.1 L1451 221.5 L1454.6 228.6 L1463.5 242.8 L1463.5 262.3 L1459 265 L1452.8 265.8 L1447.5 268.5 L1397.9 240.1 L1392.6 230.3 L1385.5 217.9 Z" fill="url(#pock)" stroke="#585b6e" stroke-width="0.75"/>
<ellipse cx="1456.4" cy="239.6" rx="5.6" ry="3.2" fill="#9c9fb0" stroke="#5b5e70" stroke-width="0.75"/>
<!-- slot: wall band + ring hole + voids -->
<path d="M1527.8 241.4 C1528 232 1542 226.5 1556 227 C1563 227.3 1569 229 1572.5 231.7 C1576 234.5 1579 238.5 1582 241.2 L1695.2 301.7 C1700 304.5 1702.8 307.5 1702.4 310.3 C1702 313 1700 315.5 1694.3 317.5 L1695.2 317 C1696 315 1694 313.5 1691.4 312.2 L1578 252.4 L1567.7 247 C1556 244.5 1542 246 1533.5 251.5 L1530.8 249.8 C1529 246.5 1527.8 244 1527.8 241.4 Z" fill="#a0a3b4" stroke="#585b6e" stroke-width="0.7"/>
<path d="M1527.8 241.4 C1528 232 1542 226.5 1556 227 C1563 227.3 1569 229 1572.5 231.7 L1572 246.5 C1558 243.5 1541 245.5 1533.5 251.5 C1530 248 1527.8 244.5 1527.8 241.4 Z" fill="url(#hole2)"/>
<path d="M1537.5 254.6 C1544 250.3 1557 249.6 1566.6 251.2 L1561.6 272.7 L1555 269.2 C1549 266 1545 262.5 1540.4 259.4 Z" fill="#9295a7" stroke="#62657a" stroke-width="0.4"/>
<path d="M1543 259 C1549 256.5 1557 256.3 1564 257.5 L1561.6 272.7 L1555 269.2 C1550 266 1547 263 1543 259 Z" fill="#a9acbb"/>
<path d="M1665.5 326.1 L1657.8 323.7 L1555 269.2 C1549 266 1545 262.5 1540.4 259.4 C1535 255.5 1532 252.5 1530.8 249.8" fill="none" stroke="#585b6e" stroke-width="0.7"/>
<path d="M1572.9 255.7 1602.8 269.6 1603.2 271.6 1601.8 272.6 1574.7 275.4 1567.6 274.6 1566.7 273.6 1571.2 257.2 Z" fill="#999cae" stroke="#585b6e" stroke-width="0.7" stroke-linejoin="round"/>
<path d="M1577.0 266.0 1599.0 271.5 1601.8 272.6 1574.7 275.4 1569.5 274.5 Z" fill="#aeb1c0"/>
<path d="M1575.2 279.3 1603.8 276.9 1605.0 278.0 1600.6 291.1 1598.0 291.8 Z" fill="#9699ab" stroke="#585b6e" stroke-width="0.7" stroke-linejoin="round"/>
<path d="M1613.9 277.7 1643.8 291.6 1644.2 293.6 1642.8 294.6 1615.7 297.4 1608.6 296.6 1607.7 295.6 1612.2 279.2 Z" fill="#999cae" stroke="#585b6e" stroke-width="0.7" stroke-linejoin="round"/>
<path d="M1618.0 288.0 1640.0 293.5 1642.8 294.6 1615.7 297.4 1610.5 296.5 Z" fill="#aeb1c0"/>
<path d="M1616.2 301.3 1644.8 298.9 1646.0 300.0 1641.6 313.1 1639.0 313.8 Z" fill="#9699ab" stroke="#585b6e" stroke-width="0.7" stroke-linejoin="round"/>
<path d="M1654.9 299.7 1684.8 313.6 1685.2 315.6 1683.8 316.6 1656.7 319.4 1649.6 318.6 1648.7 317.6 1653.2 301.2 Z" fill="#999cae" stroke="#585b6e" stroke-width="0.7" stroke-linejoin="round"/>
<path d="M1659.0 310.0 1681.0 315.5 1683.8 316.6 1656.7 319.4 1651.5 318.5 Z" fill="#aeb1c0"/>
<path d="M1655 321.3 L1692.4 317 L1683.7 321.8 L1673.2 325.6 L1665.5 326.1 L1660 324.6 Z" fill="#9699ab" stroke="#585b6e" stroke-width="0.7" stroke-linejoin="round"/>
<g stroke="#e8522a" stroke-width="1" fill="none" stroke-linecap="round"><path d="M1568.6 272.6 L1573.8 275.2"/><path d="M1588.3 283.5 L1600 289.2"/><path d="M1608.4 294.4 L1613.2 296.2"/><path d="M1629.3 305.5 L1641 311.2"/><path d="M1649.4 316.4 L1654.2 318.2"/></g>
<g stroke="#fff" stroke-width="1.2" fill="none"><path d="M1595 289.3 L1600.4 291.6"/><path d="M1613.4 295.3 L1617 296.6"/><path d="M1636 311.3 L1641.4 313.6"/></g>
<!-- right ring hole -->
<ellipse cx="1733.8" cy="337.6" rx="27.5" ry="15.4" fill="url(#hole3)" stroke="#5b5e70" stroke-width="0.75"/>
<path d="M1755 348 L1780 360" stroke="#6f7284" stroke-width="0.8"/>
<path d="M1755 350 L1780 363 L1780 366 L1757 353 Z" fill="#b5b7c4"/>
<!-- bracket end holes -->
<path d="M1772 372 L1780 376 L1780 415 L1772.5 420 Z" fill="#c6c8d3"/>
<ellipse cx="1762.5" cy="381" rx="4.6" ry="6.6" fill="#e6e7ee" stroke="#6f7284" stroke-width="0.6" transform="rotate(-18 1762.5 381)"/>
<ellipse cx="1762.5" cy="403.7" rx="4.6" ry="6.6" fill="#e6e7ee" stroke="#6f7284" stroke-width="0.6" transform="rotate(-18 1762.5 403.7)"/>
<!-- axes -->
<path d="M1567 112 V266" stroke="#4a6cf0" stroke-width="1.7"/>
<path d="M1615 245.8 L1780 156.2" stroke="#4be01c" stroke-width="1"/>
<path d="M1569.6 270.3 L1581.6 263.7" stroke="#3ddc20" stroke-width="1.1"/>
</svg>
<div class="b" style="left:1353px;top:432px;width:427px;height:1px;background:#cfd1de;"></div>
<div class="t" style="top:446.25px;font-size:14px;line-height:18px;color:#3f4260;letter-spacing:0.601px;left:1366.50px;-webkit-text-stroke:0.3px #3f4260;">Estimate Breakdown</div>
<div class="b" style="left:1358px;top:471px;width:418px;height:1px;background:#d3d5e2;"></div>
<div class="b" style="left:1366px;top:480px;width:36px;height:16px;background:#dcdee8;border-radius:4px;"></div>
<div class="t" style="top:482.41px;font-size:9.5px;line-height:12px;color:#5d6180;font-weight:700;left:1376.84px;">9%</div>
<div class="t" style="top:480.04px;font-size:12px;line-height:16px;color:#4d4f69;letter-spacing:0.601px;left:1408.50px;">Machining</div>
<div class="t" style="top:480.04px;font-size:12px;line-height:16px;color:#8c90ad;left:1473.00px;letter-spacing:0.1px;">15m 1s</div>
<div class="t" style="top:480.24px;font-size:12px;line-height:16px;color:#4d4f69;letter-spacing:0.080px;right:12.22px;text-align:right;">$15.03</div>
<div class="b" style="left:1358px;top:504px;width:418px;height:1px;border-top:1px dashed #d3d5e2;"></div>
<div class="b" style="left:1366px;top:513px;width:36px;height:16px;background:#dcdee8;border-radius:4px;"></div>
<div class="t" style="top:515.41px;font-size:9.5px;line-height:12px;color:#5d6180;font-weight:700;left:1374.19px;">52%</div>
<div class="t" style="top:513.04px;font-size:12px;line-height:16px;color:#4d4f69;letter-spacing:0.228px;left:1408.50px;">Setups</div>
<div class="t" style="top:513.04px;font-size:12px;line-height:16px;color:#8c90ad;left:1451.50px;letter-spacing:0.1px;">(3)</div>
<div class="t" style="top:513.24px;font-size:12px;line-height:16px;color:#4d4f69;letter-spacing:0.080px;right:12.22px;text-align:right;">$90.00</div>
<div class="b" style="left:1358px;top:537px;width:418px;height:1px;border-top:1px dashed #d3d5e2;"></div>
<div class="b" style="left:1366px;top:546px;width:36px;height:16px;background:#dcdee8;border-radius:4px;"></div>
<div class="t" style="top:548.41px;font-size:9.5px;line-height:12px;color:#5d6180;font-weight:700;left:1374.46px;">11%</div>
<div class="t" style="top:546.04px;font-size:12px;line-height:16px;color:#4d4f69;letter-spacing:0.760px;left:1408.50px;">Material</div>
<div class="t" style="top:546.24px;font-size:12px;line-height:16px;color:#4d4f69;letter-spacing:0.080px;right:12.22px;text-align:right;">$19.20</div>
<div class="b" style="left:1358px;top:570px;width:418px;height:1px;border-top:1px dashed #d3d5e2;"></div>
<div class="b" style="left:1366px;top:579px;width:36px;height:16px;background:#dcdee8;border-radius:4px;"></div>
<div class="t" style="top:581.41px;font-size:9.5px;line-height:12px;color:#5d6180;font-weight:700;left:1374.19px;">29%</div>
<div class="t" style="top:579.04px;font-size:12px;line-height:16px;color:#4d4f69;letter-spacing:0.872px;left:1408.50px;">Other</div>
<div class="t" style="top:579.24px;font-size:12px;line-height:16px;color:#4d4f69;letter-spacing:0.080px;right:12.22px;text-align:right;">$50.00</div>
<div class="b" style="left:1358px;top:603px;width:418px;height:1px;border-top:1px dashed #d3d5e2;"></div>
<div class="t" style="top:619.84px;font-size:12px;line-height:16px;color:#4d4f69;letter-spacing:0.573px;left:1366.50px;">Discount</div>
<div class="b" style="left:1688px;top:616px;width:80px;height:24px;background:#fff;border:1px solid #c4c7d9;border-radius:4px;"></div>
<div class="b" style="left:1688px;top:616px;width:20px;height:24px;background:#c4c7d9;border-radius:4px 0 0 4px;"></div>
<div class="t" style="top:620.04px;font-size:12px;line-height:16px;color:#fff;font-weight:700;left:1694.60px;">$</div>
<div class="t" style="top:619.75px;font-size:14px;line-height:18px;color:#5d6180;right:17.70px;text-align:right;">0</div>
<div class="b" style="left:1353px;top:910px;width:427px;height:1px;background:#d9dbe6;"></div>
<div class="t" style="top:927.15px;font-size:14px;line-height:18px;color:#3f4260;font-weight:700;letter-spacing:0.398px;left:1366.50px;">Grand Total</div>
<div class="t" style="top:925.80px;font-size:15px;line-height:20px;color:#3f4260;font-weight:700;letter-spacing:0.780px;right:11.52px;text-align:right;">$174.23</div>
<svg class="b" style="left:0px;top:949px;" width="10" height="10" viewBox="0 0 10 10"><path d="M0 0 V10 H10 A10 10 0 0 1 0 0 Z" fill="#000"/></svg>
<svg class="b" style="left:1770px;top:949px;" width="10" height="10" viewBox="0 0 10 10"><path d="M10 0 V10 H0 A10 10 0 0 0 10 0 Z" fill="#000"/></svg>
</body></html>
